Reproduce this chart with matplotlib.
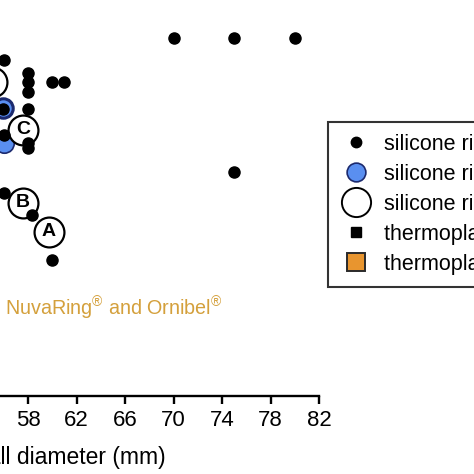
import numpy as np
import matplotlib
matplotlib.use("Agg")
import matplotlib.pyplot as plt
from matplotlib.lines import Line2D

plt.rcParams['font.family'] = ['Liberation Sans', 'DejaVu Sans']
plt.rcParams['mathtext.fontset'] = 'custom'
plt.rcParams['mathtext.rm'] = 'Liberation Sans'

# silicone rings (black dots)
dot_x = [70, 75, 80, 56, 58, 58, 58, 60, 61, 58, 56, 58, 58, 75, 56, 58.3, 60, 55.9]
dot_y = [9.16, 9.16, 9.16, 8.72, 8.46, 8.28, 8.08, 8.28, 8.28, 7.74, 7.22, 7.06, 6.96, 6.48, 6.06, 5.62, 4.72, 7.74]

# silicone rings, blue
blue_x = [55.9, 56.0]
blue_y = [7.76, 7.06]

# labelled silicone rings (open circles)
circ_x = [55.0, 57.6, 57.6, 59.7]
circ_y = [8.28, 7.32, 5.86, 5.28]
circ_lab = ['D', 'C', 'B', 'A']

legend_labels = ['silicone ring', 'silicone ring', 'silicone ring',
                 'thermoplastic ring', 'thermoplastic ring']

fig = plt.figure(figsize=(4.74, 4.74), dpi=100)
ax = fig.add_axes([-0.4525, 0.1646, 1.1255, 0.8354])

ax.plot(blue_x[:1], blue_y[:1], 'o', ms=14, mfc='#5a8ff0', mec='#1c2a6e', mew=2.2, zorder=2)
ax.plot(blue_x[1:], blue_y[1:], 'o', ms=14, mfc='#5a8ff0', mec='#1c2a6e', mew=1.2, zorder=2)
ax.plot(circ_x, circ_y, 'o', ms=21.5, mfc='white', mec='black', mew=1.6, zorder=2)
for x, y, t in zip(circ_x, circ_y, circ_lab):
    ax.text(x, y, t, ha='center', va='center', fontsize=14, fontweight='bold', zorder=3)
ax.plot(dot_x, dot_y, 'o', ms=8, color='black', zorder=4)

ax.text(56.1, 3.76, r'NuvaRing$^{\circledR}$ and Ornibel$^{\circledR}$',
        color='#d4a03c', fontsize=14.2, ha='left', va='center')

ax.set_xlim(38, 82)
ax.set_ylim(2, 9.92)
ax.set_xticks(np.arange(38, 83, 4))
ax.set_yticks([])
for s in ['top', 'right', 'left']:
    ax.spines[s].set_visible(False)
ax.spines['bottom'].set_linewidth(1.7)
ax.tick_params(axis='x', direction='out', length=6, width=1.7, labelsize=16, pad=4)
ax.set_xlabel('Overall diameter (mm)', fontsize=16.5, labelpad=11)

handles = [
    Line2D([], [], ls='', marker='o', ms=7.5, color='black'),
    Line2D([], [], ls='', marker='o', ms=13.5, mfc='#5a8ff0', mec='#1c2a6e', mew=1.2),
    Line2D([], [], ls='', marker='o', ms=21, mfc='white', mec='black', mew=1.4),
    Line2D([], [], ls='', marker='s', ms=7, color='black'),
    Line2D([], [], ls='', marker='s', ms=12.5, mfc='#e8952f', mec='#2a2a2a', mew=1.4),
]
leg = fig.legend(handles, legend_labels, loc='upper left',
                 bbox_to_anchor=(328 / 474, 1 - 122 / 474), fontsize=15.5,
                 frameon=True, fancybox=False, edgecolor='black',
                 handlelength=1.5, handletextpad=0.55, labelspacing=0.42,
                 borderpad=0.55, borderaxespad=0)
leg.get_frame().set_linewidth(1.5)

fig.savefig('out.png', dpi=100)
